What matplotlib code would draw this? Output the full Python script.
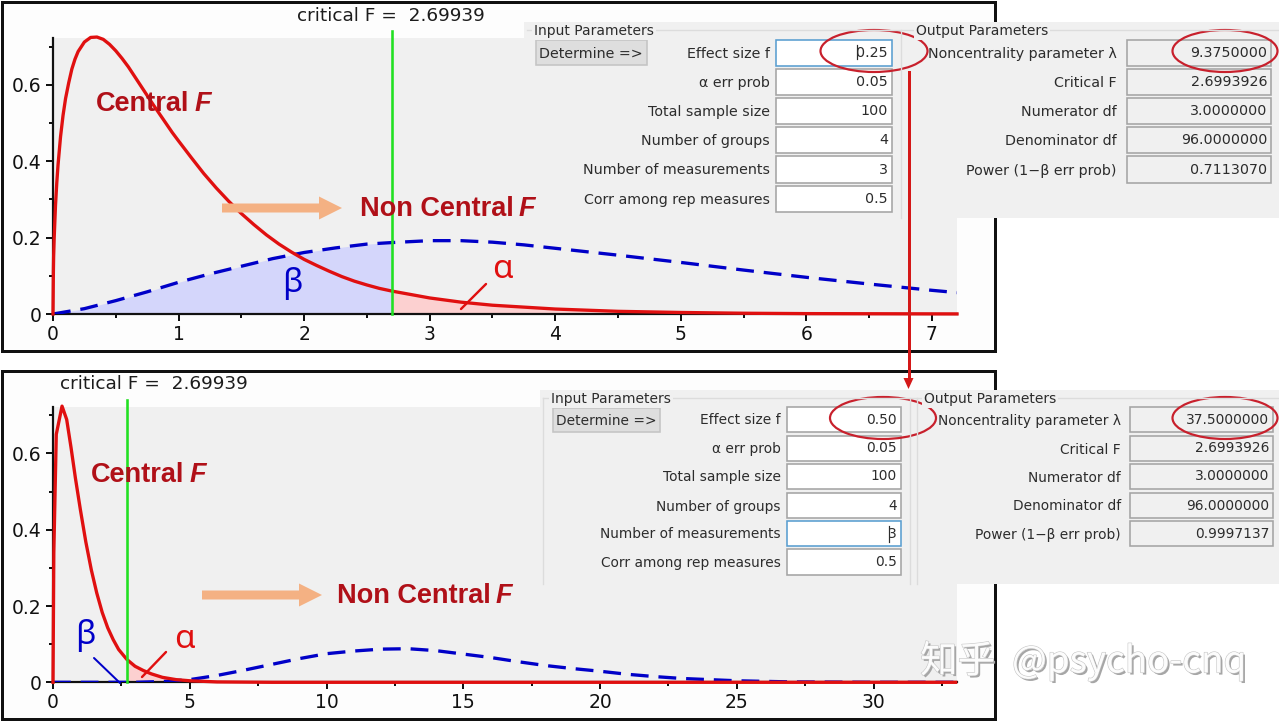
import matplotlib
matplotlib.use("Agg")
import matplotlib.pyplot as plt
import matplotlib.patheffects as pe
from matplotlib.patches import Rectangle, Ellipse, FancyArrow, Polygon

W, H = 1279, 721

CRIT = 2.69939

# central F, upper panel
top_central_x = [0, .003, .005, .01, .02, .03, .04, .06, .08, .1, .125, .15, .175, .2, .25, .3, .35, .4,
                 .45, .5, .55, .6, .65, .7, .75, .8, .85, .9, .95, 1.0, 1.1, 1.2, 1.3, 1.4, 1.5, 1.6,
                 1.7, 1.8, 1.9, 2.0, 2.1, 2.2, 2.3, 2.4, 2.5, 2.6, CRIT, 2.85, 3.0, 3.25, 3.5, 3.75,
                 4.0, 4.25, 4.5, 5.0, 5.5, 6.0, 7.2]
top_central_y = [0, .11, .15, .204, .285, .343, .39, .464, .52, .564, .605, .641, .667, .687, .712, .724,
                 .725, .719, .706, .689, .669, .647, .622, .597, .572, .547, .523, .499, .475, .453, .41,
                 .368, .33, .295, .263, .234, .207, .183, .162, .143, .127, .112, .098, .086, .076, .067,
                 .060, .051, .042, .031, .023, .018, .013, .010, .007, .004, .002, .001, .0002]
# noncentral F, upper panel
top_noncentral_x = [0, .25, .5, .75, 1, 1.25, 1.5, 1.75, 2, 2.25, 2.5, CRIT, 3, 3.25, 3.5, 3.75, 4, 4.5, 5,
                    5.5, 6, 6.5, 7, 7.2]
top_noncentral_y = [0, .014, .035, .058, .083, .105, .125, .145, .161, .173, .183, .187, .192, .192,
                    .188, .181, .172, .154, .135, .115, .096, .0785, .062, .056]

# lower panel (coarser sampling, the peak looks polygonal)
bot_central_x = [0, .03, .12, .33, .5, .66, .82, 1, 1.2, 1.4, 1.6, 1.8, 2, 2.2, 2.4, CRIT, 3, 3.3, 3.6,
                 4, 4.5, 5, 6, 8, 33]
bot_central_y = [0, .34, .65, .724, .689, .615, .535, .453, .368, .295, .234, .183, .143, .112, .086, .060,
                 .042, .031, .022, .013, .007, .004, .001, 0, 0]
bot_noncentral_x = [0, 3, 4, 5, 6, 7, 8, 9, 10, 11, 12, 13, 14, 15, 16, 17, 18, 19, 20, 21, 22, 23, 24,
                    25, 27, 30, 33]
bot_noncentral_y = [0, 0, .002, .007, .018, .032, .047, .062, .075, .082, .087, .088, .083, .074, .065,
                    .054, .044, .036, .029, .021, .015, .010, .007, .004, .001, 0, 0]

input_labels = ["Effect size f", "α err prob", "Total sample size", "Number of groups",
                "Number of measurements", "Corr among rep measures"]
output_labels = ["Noncentrality parameter λ", "Critical F", "Numerator df", "Denominator df",
                 "Power (1−β err prob)"]
top_inputs = ["0.25", "0.05", "100", "4", "3", "0.5"]
bot_inputs = ["0.50", "0.05", "100", "4", "3", "0.5"]
top_outputs = ["9.3750000", "2.6993926", "3.0000000", "96.0000000", "0.7113070"]
bot_outputs = ["37.5000000", "2.6993926", "3.0000000", "96.0000000", "0.9997137"]

RED = "#e01010"
LABEL_RED = "#b01018"
BLUE = "#0000c8"
GREEN = "#22e022"
PLOT_BG = "#f0f0f0"
SALMON = "#f4b183"
OVAL = "#c8202c"
UI_FONT = "DejaVu Sans"
PX = 0.72  # points per pixel at dpi 100

fig = plt.figure(figsize=(W / 100, H / 100), dpi=100, facecolor="white")


def px_axes(left, top, right, bottom, **kw):
    return fig.add_axes([left / W, 1 - bottom / H, (right - left) / W, (bottom - top) / H], **kw)


def pixel_layer(zorder):
    ax = fig.add_axes([0, 0, 1, 1], zorder=zorder)
    ax.set_xlim(0, W)
    ax.set_ylim(H, 0)
    ax.axis("off")
    ax.patch.set_alpha(0)
    return ax


back = pixel_layer(0)
for y0, y1 in [(1.5, 350.5), (370.5, 718.5)]:
    back.add_patch(Rectangle((1.5, y0), 993, y1 - y0, fc="#fdfdfd", ec="#111111", lw=3 * PX))


def density_plot(box, xlim, major, minor, cx, cy, nx, ny, dash):
    ax = px_axes(*box, zorder=1, facecolor=PLOT_BG)
    ax.set_xlim(*xlim)
    ax.set_ylim(0, 0.7225)
    # beta under the noncentral curve, alpha under the central one
    lo_x = [x for x in nx if x <= CRIT]
    lo_y = [y for x, y in zip(nx, ny) if x <= CRIT]
    ax.fill_between(lo_x + [CRIT], lo_y + [lo_y[-1]], color="#d4d6fb", lw=0)
    hi_x = [x for x in cx if x >= CRIT]
    hi_y = [y for x, y in zip(cx, cy) if x >= CRIT]
    ax.fill_between(hi_x, hi_y, color="#fcd0d0", lw=0)
    ax.plot(nx, ny, color=BLUE, lw=3.3 * PX, dashes=dash, zorder=3)
    ax.plot(cx, cy, color=RED, lw=3.3 * PX, zorder=4, clip_on=False)
    ax.plot([CRIT, CRIT], [0, 0.741], color=GREEN, lw=2.6 * PX, zorder=5, clip_on=False)
    ax.set_xticks(major)
    ax.set_xticklabels([str(v) for v in major])
    ax.set_xticks(minor, minor=True)
    ax.set_yticks([0, .2, .4, .6])
    ax.set_yticklabels(["0", "0.2", "0.4", "0.6"])
    ax.set_yticks([.1, .3, .5, .7], minor=True)
    ax.tick_params(which="major", length=7 * PX, width=2 * PX, labelsize=13.5, pad=3, colors="#111111")
    ax.tick_params(which="minor", length=4 * PX, width=2 * PX, colors="#111111")
    for side in ("top", "right"):
        ax.spines[side].set_visible(False)
    for side in ("left", "bottom"):
        ax.spines[side].set_linewidth(2.2 * PX)
        ax.spines[side].set_color("#111111")
    return ax


density_plot((53, 38, 957, 314), (0, 7.2), list(range(8)), [v + .5 for v in range(7)],
             top_central_x, top_central_y, top_noncentral_x, top_noncentral_y, (5.4, 3.0))
density_plot((53, 406.7, 957, 682.3), (0, 33.05), [0, 5, 10, 15, 20, 25, 30],
             [2.5, 7.5, 12.5, 17.5, 22.5, 27.5, 32.5],
             bot_central_x, bot_central_y, bot_noncentral_x, bot_noncentral_y, (5.4, 3.0))

ov = pixel_layer(2)


def ui_text(x, y, s, ha="right", color="#2c2c2c", size=10.25):
    ov.text(x, y, s, ha=ha, va="center", fontsize=size, color=color, family=UI_FONT)


def box(x0, x1, y0, y1, face, edge="#a4a4a4", lw=1.6):
    ov.add_patch(Rectangle((x0, y0), x1 - x0, y1 - y0, fc=face, ec=edge, lw=lw * PX))


def params_panel(left, top, bottom, in_title_x, out_title_x, button, label_r, in_box, out_label_r, out_box,
                 rows, splits, inputs, outputs, focus, size):
    ov.add_patch(Rectangle((left, top), W - left, bottom - top, fc=PLOT_BG, ec="none"))
    for x in splits:
        ov.plot([x, x], [top + 8, bottom], color="#dcdcdc", lw=1.4 * PX)
    ov.plot([left + 3, W], [top + 8, top + 8], color="#dcdcdc", lw=1.4 * PX)
    for x, s in [(in_title_x, "Input Parameters"), (out_title_x, "Output Parameters")]:
        ov.text(x, top + 9, s, ha="left", va="center", fontsize=10, color="#2c2c2c", family=UI_FONT,
                bbox=dict(fc=PLOT_BG, ec="none", pad=1.5))
    box(button[0], button[1], button[2], button[3], "#dedede", "#c4c4c4")
    ui_text(button[0] + 3, (button[2] + button[3]) / 2 + 1, "Determine =>", ha="left", size=size)
    for i, (y0, y1) in enumerate(rows):
        mid = (y0 + y1) / 2
        edge = "#5a9ed0" if i == focus else "#a4a4a4"
        box(in_box[0], in_box[1], y0, y1, "white", edge)
        ui_text(label_r, mid + 1, input_labels[i], size=size)
        ui_text(in_box[1] - 4, mid, inputs[i], size=size)
        if i < len(outputs):
            box(out_box[0], out_box[1], y0, y1, PLOT_BG)
            ui_text(out_label_r, mid + 1, output_labels[i], size=size)
            ui_text(out_box[1] - 4, mid, outputs[i], size=size)


params_panel(524, 22, 218, 534, 916, (536, 647, 40, 65), 770, (776, 892), 1117, (1127, 1271),
             [(39.5, 66), (69, 95), (98, 124), (127, 153), (156, 183), (186, 212)],
             [901], top_inputs, top_outputs, 0, 10.25)
params_panel(540, 390, 584, 551, 924, (553, 660, 408, 432), 781, (787, 901), 1121, (1130, 1273),
             [(407, 432), (436, 461), (464, 489), (493, 518), (521, 546), (549, 575)],
             [543, 910, 917], bot_inputs, bot_outputs, 4, 9.95)

# text carets in the focused fields
ov.plot([857, 857], [45, 59], color="#2c2c2c", lw=1.2 * PX)
ov.plot([889, 889], [526, 542], color="#2c2c2c", lw=1.2 * PX)

# ovals around the changed values
for cx_, cy_, w_ in [(874, 51, 107), (1225, 51, 105), (883, 418, 106), (1225, 418, 105)]:
    ov.add_patch(Ellipse((cx_, cy_), w_, 42, fc="none", ec=OVAL, lw=2.2 * PX))

# link between the two panels
ov.plot([908.5, 908.5], [72, 379], color="#d41818", lw=3 * PX)
ov.add_patch(Polygon([(903.5, 378), (913.5, 378), (908.5, 389)], fc="#d41818", ec="none"))

# effect-size arrows
for x0, y in [(222, 208), (202, 595)]:
    ov.add_patch(FancyArrow(x0, y, 120, 0, width=9, head_width=23, head_length=23,
                            length_includes_head=True, fc=SALMON, ec="none"))

TITLE_FONT = "Liberation Sans"
for x, y, s, fx in [(96, 104, "Central", 195), (91, 475, "Central", 190),
                    (360, 209, "Non Central", 519), (337, 596, "Non Central", 496)]:
    ov.text(x, y, s, ha="left", va="center", fontsize=19.5, color=LABEL_RED, fontweight="bold", family=TITLE_FONT)
    ov.text(fx, y, "F", ha="left", va="center", fontsize=19.5, color=LABEL_RED, fontweight="bold",
            fontstyle="italic", family=TITLE_FONT)

for x, y, s, c in [(503, 270, "α", RED), (184, 639, "α", RED), (292, 284, "β", BLUE), (85, 635, "β", BLUE)]:
    ov.text(x, y, s, ha="center", va="center", fontsize=24, color=c, family="Noto Sans")

ov.plot([486, 461], [284, 309], color=RED, lw=2.4 * PX, solid_capstyle="round")
ov.plot([166, 142], [652, 677], color=RED, lw=2.4 * PX, solid_capstyle="round")
ov.plot([94, 120], [658, 683], color=BLUE, lw=2 * PX, solid_capstyle="round")

ui_text(297, 16, "critical F =  2.69939", ha="left", color="#1c1c1c", size=13.3)
ui_text(60, 384, "critical F =  2.69939", ha="left", color="#1c1c1c", size=13.3)

# watermark: white glyphs with a grey drop shadow
mark_fx = [pe.withSimplePatchShadow(offset=(1.5, -1.5), shadow_rgbFace="#a6a6a6", alpha=1),
           pe.withStroke(linewidth=0.8, foreground="#c4c4c4")]
for x, s, size in [(920, "知乎", 27), (1012, "@psycho-cnq", 26.5)]:
    wm = ov.text(x, 662, s, ha="left", va="center", fontsize=size, color="#fcfcfc",
                 family=["Noto Sans CJK SC", "DejaVu Sans"])
    wm.set_path_effects(mark_fx)

fig.savefig("out.png", dpi=100)
